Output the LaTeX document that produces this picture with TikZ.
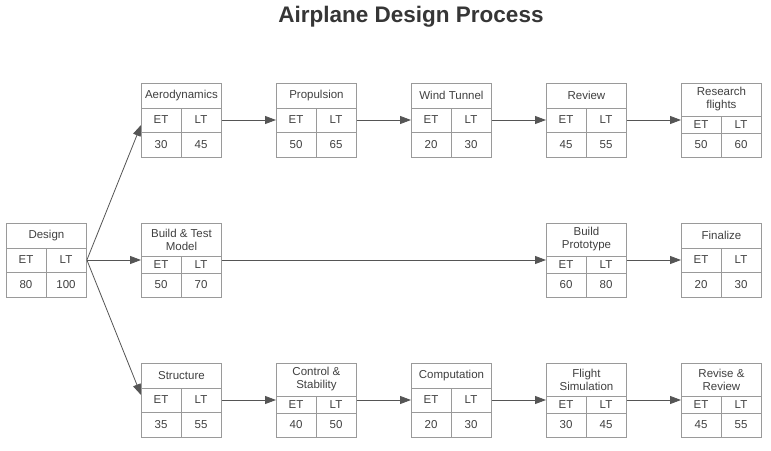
\documentclass[tikz,border=0pt]{standalone}
\usepackage{fontspec}
\setmainfont{Liberation Sans}
\usetikzlibrary{calc,arrows.meta}
\definecolor{boxline}{HTML}{9A9A9A}
\definecolor{txt}{HTML}{404040}
\definecolor{arr}{HTML}{555555}
\tikzset{
  boxframe/.style={draw=boxline, line width=0.9pt, minimum width=80pt, minimum height=74pt, inner sep=0pt, anchor=north west},
  gridline/.style={draw=boxline, line width=0.9pt},
  lbl/.style={text=txt, font=\fontsize{11.5}{13}\selectfont, inner sep=0pt, align=center},
  conn/.style={draw=arr, line width=0.8pt, -{Triangle[length=11pt,width=8pt]}},
}
% #1 name, #2 left, #3 top, #4 header, #5 ET value, #6 LT value, #7 header height, #8 ET row height
\newcommand\pertbox[8]{%
  \node[boxframe] (#1) at (#2,#3) {};
  \draw[gridline] ($(#1.north west)+(0,#7)$) -- ($(#1.north east)+(0,#7)$);
  \draw[gridline] ($(#1.north west)+(0,#7+#8)$) -- ($(#1.north east)+(0,#7+#8)$);
  \draw[gridline] ($(#1.north)+(0,#7)$) -- (#1.south);
  \node[lbl] (#1-t) at ($(#1.north)+(0,#7/2)$) {#4};
  \node[lbl] (#1-et) at ($(#1.north west)+(20,#7+#8/2)$) {ET};
  \node[lbl] (#1-lt) at ($(#1.north west)+(60,#7+#8/2)$) {LT};
  \node[lbl] (#1-ev) at ($(#1.north west)+(20,{(#7+#8+74)/2})$) {#5};
  \node[lbl] (#1-lv) at ($(#1.north west)+(60,{(#7+#8+74)/2})$) {#6};
  \coordinate (#1-in) at ($(#1.north west)+(0,37)$);
  \coordinate (#1-out) at ($(#1.north east)+(0,37)$);
}
\begin{document}
\begin{tikzpicture}[x=1pt,y=-1pt]
\useasboundingbox[fill=white] (0,0) rectangle (771,450);
\node[text=txt!85!black, font=\fontsize{22.5}{26}\selectfont\bfseries, inner sep=0pt] (title) at (411,16.5) {Airplane Design Process};
% row 2
\pertbox{design}{6}{223}{Design}{80}{100}{25}{24}
\pertbox{build}{141}{223}{Build \& Test\\Model}{50}{70}{33}{17}
\pertbox{proto}{546}{223}{Build\\Prototype}{60}{80}{33}{17}
\pertbox{final}{681}{223}{Finalize}{20}{30}{25}{24}
% row 1
\pertbox{aero}{141}{83}{Aerodynamics}{30}{45}{25}{24}
\pertbox{prop}{276}{83}{Propulsion}{50}{65}{25}{24}
\pertbox{wind}{411}{83}{Wind Tunnel}{20}{30}{25}{24}
\pertbox{review}{546}{83}{Review}{45}{55}{25}{24}
\pertbox{research}{681}{83}{Research\\flights}{50}{60}{33}{17}
% row 3
\pertbox{struct}{141}{363}{Structure}{35}{55}{25}{24}
\pertbox{control}{276}{363}{Control \&\\Stability}{40}{50}{33}{17}
\pertbox{comp}{411}{363}{Computation}{20}{30}{25}{24}
\pertbox{flight}{546}{363}{Flight\\Simulation}{30}{45}{33}{17}
\pertbox{revise}{681}{363}{Revise \&\\Review}{45}{55}{33}{17}
% connectors
\draw[conn] (design-out) -- ([yshift=-5pt]aero-in);
\draw[conn] (design-out) -- (build-in);
\draw[conn] (design-out) -- ([yshift=5pt]struct-in);
\draw[conn] (aero-out) -- (prop-in);
\draw[conn] (prop-out) -- (wind-in);
\draw[conn] (wind-out) -- (review-in);
\draw[conn] (review-out) -- (research-in);
\draw[conn] (build-out) -- (proto-in);
\draw[conn] (proto-out) -- (final-in);
\draw[conn] (struct-out) -- (control-in);
\draw[conn] (control-out) -- (comp-in);
\draw[conn] (comp-out) -- (flight-in);
\draw[conn] (flight-out) -- (revise-in);
\end{tikzpicture}
\end{document}
